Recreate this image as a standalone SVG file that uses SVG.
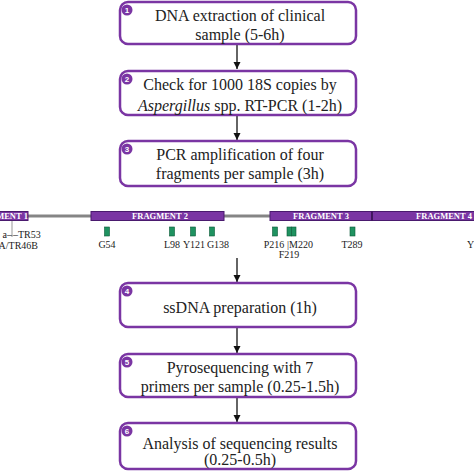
<svg xmlns="http://www.w3.org/2000/svg" width="474" height="474" viewBox="0 0 474 474">
<defs>
<style>
.box{fill:#fff;stroke:#7a35a3;stroke-width:2.5}
.num{fill:#7a35a3}
.numt{fill:#fff;font-family:"Liberation Sans",Arial,sans-serif;font-size:8px;font-weight:bold;text-anchor:middle}
.t{font-family:"Liberation Serif","Times New Roman",serif;font-size:16px;fill:#222;text-anchor:middle}
.frag{fill:#7a35a3;stroke:#4a1a6e;stroke-width:1}
.ft{font-family:"Liberation Serif","Times New Roman",serif;font-size:8.5px;font-weight:bold;fill:#fff;text-anchor:middle}
.mk{fill:#1f9260;stroke:#0d5a38;stroke-width:0.6}
.ml{font-family:"Liberation Serif","Times New Roman",serif;font-size:10px;fill:#222}
.c{text-anchor:middle}
.s{text-anchor:start}
.e{text-anchor:end}
.ar{stroke:#111;stroke-width:1.3;fill:none}
</style>
<marker id="a2" markerWidth="7" markerHeight="8" refX="7" refY="3.5" orient="auto" markerUnits="userSpaceOnUse">
<path d="M0,0 L7,3.5 L0,7 Z" fill="#111"/>
</marker>
</defs>

<g id="connectors">
<line class="ar" x1="237" y1="45" x2="237" y2="69" marker-end="url(#a2)"/>
<line class="ar" x1="237" y1="116" x2="237" y2="140" marker-end="url(#a2)"/>
<line class="ar" x1="237" y1="258" x2="237" y2="282" marker-end="url(#a2)"/>
<line class="ar" x1="237" y1="328" x2="237" y2="353" marker-end="url(#a2)"/>
<line class="ar" x1="237" y1="398" x2="237" y2="422" marker-end="url(#a2)"/>
</g>

<g id="step1">
<rect class="box" x="120" y="2" width="236" height="42" rx="8"/>
<circle class="num" cx="127" cy="10" r="5.5"/><text class="numt" x="127" y="13">1</text>
<text class="t" x="240" y="21">DNA extraction of clinical</text>
<text class="t" x="240" y="40">sample (5-6h)</text>
</g>

<g id="step2">
<rect class="box" x="120" y="71" width="236" height="44" rx="8"/>
<circle class="num" cx="127" cy="79" r="5.5"/><text class="numt" x="127" y="82">2</text>
<text class="t" x="240" y="90">Check for 1000 18S copies by</text>
<text class="t" x="240" y="111"><tspan font-style="italic">Aspergillus</tspan> spp. RT-PCR (1-2h)</text>
</g>

<g id="step3">
<rect class="box" x="120" y="141" width="236" height="45" rx="8"/>
<circle class="num" cx="127" cy="149" r="5.5"/><text class="numt" x="127" y="152">3</text>
<text class="t" x="240" y="160">PCR amplification of four</text>
<text class="t" x="240" y="179">fragments per sample (3h)</text>
</g>

<g id="gene">
<line x1="0" y1="216" x2="474" y2="216" stroke="#858585" stroke-width="3"/>
<rect class="frag" x="-40" y="211.5" width="68" height="9"/>
<text class="ft" x="0" y="219">FRAGMENT 1</text>
<rect class="frag" x="91" y="211.5" width="133" height="9"/>
<text class="ft" x="160" y="219">FRAGMENT 2</text>
<rect class="frag" x="270" y="211.5" width="102" height="9"/>
<text class="ft" x="321" y="219">FRAGMENT 3</text>
<rect class="frag" x="372" y="211.5" width="110" height="9"/>
<text class="ft" x="444" y="219">FRAGMENT 4</text>
<line x1="372" y1="211.5" x2="372" y2="220.5" stroke="#3a1256" stroke-width="1.5"/>

<line x1="12" y1="221" x2="12" y2="237" stroke="#999" stroke-width="1"/>
<text class="ml s" x="13" y="238">–TR53</text>
<text class="ml e" x="12" y="238">a–</text>
<text class="ml e" x="38" y="249">5A/TR46B</text>

<rect class="mk" x="104.5" y="227" width="5" height="9"/>
<text class="ml c" x="107" y="248">G54</text>
<rect class="mk" x="169.5" y="227" width="5" height="9"/>
<text class="ml c" x="172" y="248">L98</text>
<rect class="mk" x="190.5" y="227" width="5" height="9"/>
<text class="ml c" x="194" y="248">Y121</text>
<rect class="mk" x="209.5" y="227" width="5" height="9"/>
<text class="ml c" x="218" y="248">G138</text>

<rect class="mk" x="272.5" y="227" width="5" height="9"/>
<text class="ml c" x="274" y="248">P216</text>
<rect class="mk" x="287" y="227" width="4.5" height="9"/>
<rect class="mk" x="291.5" y="227" width="4.5" height="9"/>
<text class="ml s" x="287" y="248">|M220</text>
<text class="ml c" x="289" y="258">F219</text>
<rect class="mk" x="350" y="227" width="5" height="9"/>
<text class="ml c" x="352" y="248">T289</text>
<text class="ml s" x="467" y="248">Y</text>
</g>

<g id="step4">
<rect class="box" x="120" y="283" width="236" height="44" rx="8"/>
<circle class="num" cx="127" cy="291" r="5.5"/><text class="numt" x="127" y="294">4</text>
<text class="t" x="240" y="313">ssDNA preparation (1h)</text>
</g>

<g id="step5">
<rect class="box" x="120" y="354" width="236" height="43" rx="8"/>
<circle class="num" cx="127" cy="362" r="5.5"/><text class="numt" x="127" y="365">5</text>
<text class="t" x="240" y="373">Pyrosequencing with 7</text>
<text class="t" x="240" y="392">primers per sample (0.25-1.5h)</text>
</g>

<g id="step6">
<rect class="box" x="120" y="423" width="236" height="46" rx="8"/>
<circle class="num" cx="127" cy="431" r="5.5"/><text class="numt" x="127" y="434">6</text>
<text class="t" x="240" y="449">Analysis of sequencing results</text>
<text class="t" x="240" y="465">(0.25-0.5h)</text>
</g>
</svg>
